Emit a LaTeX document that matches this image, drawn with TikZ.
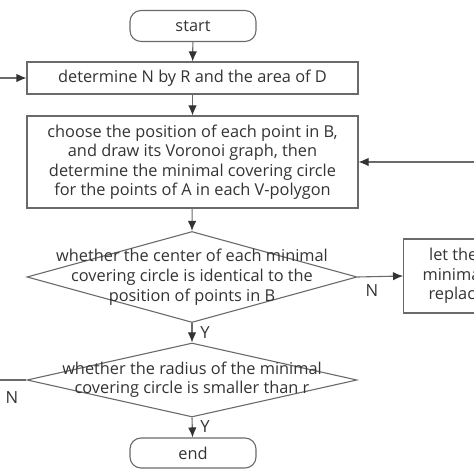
\documentclass[tikz,border=0pt]{standalone}
\usepackage{fontspec}
\setmainfont{Open Sans}
\usetikzlibrary{shapes.geometric,arrows.meta}
\definecolor{linegray}{HTML}{6A6A6A}
\definecolor{textgray}{HTML}{333333}
\begin{document}
\begin{tikzpicture}[
    every node/.style={text=textgray, font=\fontsize{9.3}{11.1}\selectfont},
    terminal/.style={draw=linegray, line width=0.022cm, rounded corners=0.22cm,
      minimum width=2.52cm, minimum height=0.62cm},
    process/.style={draw=linegray, line width=0.022cm, align=center,
      minimum width=6.62cm},
    decision/.style={draw=linegray, line width=0.022cm, diamond, inner sep=0pt,
      minimum width=6.6cm},
    flow/.style={draw=linegray, line width=0.022cm,
      -{Latex[length=0.2cm, width=0.17cm, color=textgray]}},
    branchlabel/.style={font=\fontsize{9.5}{10}\selectfont}
  ]
  \useasboundingbox (0,0) rectangle (9.48,9.48);
  \clip (0,0) rectangle (9.48,9.48);

  % Drawing start and end
  \node [terminal] (start) at (3.86,8.96) {start};
  \node [terminal, minimum height=0.6cm] (end) at (3.86,0.42) {end};

  % Drawing the two boxes
  \node [process, minimum height=0.64cm] (area) at (3.85,7.92)
    {determine N by R and the area of D};
  \node [process, minimum height=1.84cm] (choose) at (3.85,6.24)
    {choose the position of each point in B,\\
     and draw its Voronoi graph, then\\
     determine the minimal covering circle\\
     for the points of A in each V-polygon};

  % Drawing the two decisions
  \node [decision, minimum height=1.82cm] (center) at (3.84,3.94) {};
  \node [align=center, font=\fontsize{9.3}{11.4}\selectfont] (centertext) at (center)
    {whether the center of each minimal\\
     covering circle is identical to the\\
     position of points in B};
  \node [decision, minimum height=1.48cm] (radius) at (3.84,1.88) {};
  \node [align=center, font=\fontsize{9.3}{10.8}\selectfont] (radiustext) at (radius)
    {whether the radius of the minimal\\
     covering circle is smaller than r};

  % Drawing the box on the right
  \node [draw=linegray, line width=0.022cm, align=center, anchor=west,
    inner xsep=0.38cm, minimum height=1.48cm] (replace) at (8.06,3.96)
    {let the center of each\\
     minimal covering circle\\
     replace the point in B};

  % Free ends of the two loops
  \coordinate (loopleft) at (-0.1,1.88);
  \coordinate (loopright) at ([xshift=0.3cm]replace.east);

  % Drawing connectors
  \draw [flow] (start) -- (area);
  \draw [flow] (area) -- (choose);
  \draw [flow] (choose) -- (center.north);
  \draw [flow] (center.south) -- (radius.north);
  \draw [flow] (radius.south) -- (end);
  \draw [flow] (center.east) -- (replace.west);
  \draw [flow] (replace.east) -- (loopright) |- (choose.east);
  \draw [flow] (radius.west) -- (loopleft) |- (area.west);

  % Marking Y and N
  \node [branchlabel] (yes1) at (4.10,2.82) {Y};
  \node [branchlabel] (yes2) at (4.10,0.94) {Y};
  \node [branchlabel] (no1) at (7.44,3.66) {N};
  \node [branchlabel] (no2) at (0.24,1.52) {N};
\end{tikzpicture}
\end{document}
